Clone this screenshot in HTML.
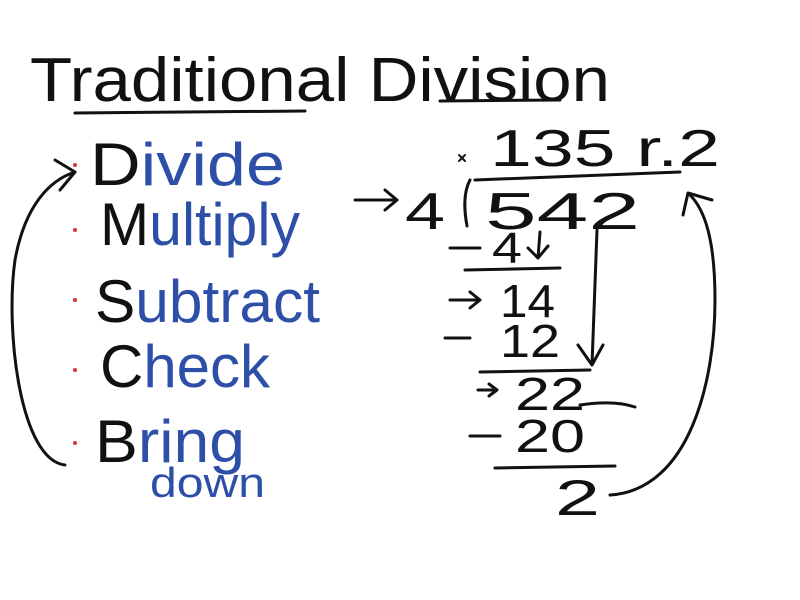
<!DOCTYPE html>
<html><head><meta charset="utf-8"><style>
html,body{margin:0;padding:0;background:#fff;}
svg{display:block;}
text{font-family:"Liberation Sans",sans-serif;}
</style></head><body>
<svg width="800" height="600" viewBox="0 0 800 600" xmlns="http://www.w3.org/2000/svg">
<rect width="800" height="600" fill="#fff"/>
<g fill="#111">
<text x="30" y="101" font-size="62" textLength="580" lengthAdjust="spacingAndGlyphs">Traditional Division</text>
</g>
<g stroke="#111" stroke-width="3" fill="none" stroke-linecap="round">
<path d="M75 113 L305 111"/>
<path d="M440 101 L560 100"/>
</g>
<g font-size="60">
<text x="90" y="185" textLength="195" lengthAdjust="spacingAndGlyphs"><tspan fill="#111">D</tspan><tspan fill="#2d4fa8">ivide</tspan></text>
<text x="100" y="245" textLength="200" lengthAdjust="spacingAndGlyphs"><tspan fill="#111">M</tspan><tspan fill="#2d4fa8">ultiply</tspan></text>
<text x="95" y="322" textLength="225" lengthAdjust="spacingAndGlyphs"><tspan fill="#111">S</tspan><tspan fill="#2d4fa8">ubtract</tspan></text>
<text x="100" y="387" textLength="170" lengthAdjust="spacingAndGlyphs"><tspan fill="#111">C</tspan><tspan fill="#2d4fa8">heck</tspan></text>
<text x="95" y="462" textLength="150" lengthAdjust="spacingAndGlyphs"><tspan fill="#111">B</tspan><tspan fill="#2d4fa8">ring</tspan></text>
</g>
<text x="150" y="497" font-size="42" fill="#2d4fa8" textLength="115" lengthAdjust="spacingAndGlyphs">down</text>
<g fill="#d33">
<circle cx="75" cy="165" r="2"/><circle cx="75" cy="230" r="2"/><circle cx="75" cy="300" r="2"/><circle cx="75" cy="370" r="2"/><circle cx="75" cy="443" r="2"/>
</g>
<g stroke="#111" stroke-width="3" fill="none" stroke-linecap="round" stroke-linejoin="round">
<path d="M65 465 C20 460 5 330 15 260 C25 205 50 180 75 172"/>
<path d="M55 160 L75 172 L60 190"/>
<path d="M610 495 C690 490 715 380 715 300 C715 240 705 210 690 195"/>
<path d="M683 215 L688 193 L712 200"/>
<path d="M355 200 L397 200 M385 190 L397 200 L385 210"/>
<path d="M475 180 L680 172"/>
<path d="M470 180 C462 195 465 215 467 226"/>
<path d="M465 270 L560 268"/>
<path d="M480 372 L590 370"/>
<path d="M495 468 L615 466"/>
<path d="M597 230 L592 365 M578 345 L592 365 L603 345"/>
<path d="M540 232 L538 258 M528 248 L538 258 L548 246"/>
<path d="M450 300 L480 300 M470 292 L480 300 L470 308"/>
<path d="M478 390 L497 390 M489 384 L497 390 L489 396"/>
<path d="M450 248 L480 248"/>
<path d="M445 338 L470 338"/>
<path d="M470 436 L500 436"/>
<path d="M580 405 C600 402 620 402 635 407"/>
<path d="M459 155 l6 6 M465 155 l-6 6" stroke-width="2"/>
</g>
<g fill="#111" font-size="52">
<text x="490" y="166" textLength="230" lengthAdjust="spacingAndGlyphs">135 r.2</text>
<text x="405" y="229" textLength="40" lengthAdjust="spacingAndGlyphs">4</text>
<text x="485" y="229" textLength="155" lengthAdjust="spacingAndGlyphs">542</text>
<text x="492" y="263" font-size="44" textLength="30" lengthAdjust="spacingAndGlyphs">4</text>
<text x="500" y="317" font-size="46" textLength="55" lengthAdjust="spacingAndGlyphs">14</text>
<text x="500" y="357" font-size="46" textLength="60" lengthAdjust="spacingAndGlyphs">12</text>
<text x="515" y="410" font-size="46" textLength="70" lengthAdjust="spacingAndGlyphs">22</text>
<text x="515" y="452" font-size="46" textLength="70" lengthAdjust="spacingAndGlyphs">20</text>
<text x="555" y="515" font-size="50" textLength="45" lengthAdjust="spacingAndGlyphs">2</text>
</g>
</svg>
</body></html>
